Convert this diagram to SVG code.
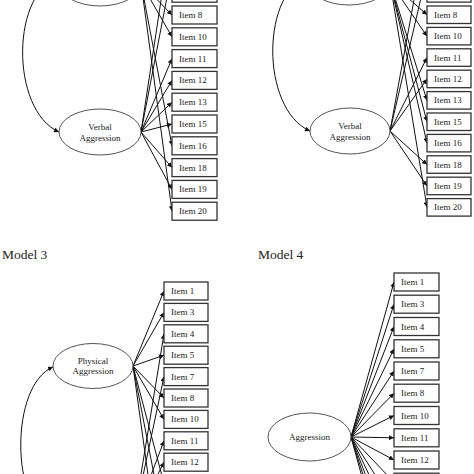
<svg xmlns="http://www.w3.org/2000/svg" width="474" height="474" viewBox="0 0 474 474">
<style>
.box{fill:#fff;stroke:#333;stroke-width:1.3}
.ell{fill:#fff;stroke:#555;stroke-width:1}
.it{font-family:"Liberation Serif",serif;font-size:9px;fill:#222}
.el{font-family:"Liberation Serif",serif;font-size:9px;fill:#222;text-anchor:middle}
.ttl{font-family:"Liberation Serif",serif;font-size:13.5px;fill:#222}
.ln{stroke:#111;stroke-width:1;fill:none;marker-end:url(#ah)}
.cv{stroke:#111;stroke-width:1;fill:none;marker-end:url(#ah);marker-start:url(#ah)}
</style>
<defs>
<marker id="ah" viewBox="0 0 10 10" refX="10" refY="5" markerWidth="5.5" markerHeight="5" markerUnits="userSpaceOnUse" orient="auto-start-reverse">
<path d="M0,0 L10,5 L0,10 z" fill="#111"/>
</marker>
</defs>
<rect width="474" height="474" fill="#fff"/>

<g id="connectors">
<!-- Model 1 -->
<path class="cv" d="M62,-25 C10,-10 10,110 59,132"/>
<line class="ln" x1="141" y1="-17" x2="172" y2="-6.8"/>
<line class="ln" x1="141" y1="-17" x2="172" y2="15"/>
<line class="ln" x1="141" y1="-17" x2="172" y2="36.8"/>
<line class="ln" x1="141" y1="-17" x2="172" y2="145.8"/>
<line class="ln" x1="141" y1="-17" x2="172" y2="211.2"/>
<line class="ln" x1="141" y1="132" x2="172" y2="-28.6"/>
<line class="ln" x1="141" y1="132" x2="172" y2="-72"/>
<line class="ln" x1="141" y1="132" x2="172" y2="58.6"/>
<line class="ln" x1="141" y1="132" x2="172" y2="80.4"/>
<line class="ln" x1="141" y1="132" x2="172" y2="102.2"/>
<line class="ln" x1="141" y1="132" x2="172" y2="124"/>
<line class="ln" x1="141" y1="132" x2="172" y2="167.6"/>
<line class="ln" x1="141" y1="132" x2="172" y2="189.4"/>
<!-- Model 2 -->
<path class="cv" d="M312,-26 C260,-11 260,109 310,131"/>
<line class="ln" x1="390" y1="-18" x2="427" y2="-6.6"/>
<line class="ln" x1="390" y1="-18" x2="427" y2="14.8"/>
<line class="ln" x1="390" y1="-18" x2="427" y2="36.2"/>
<line class="ln" x1="390" y1="-18" x2="427" y2="100.4"/>
<line class="ln" x1="390" y1="-18" x2="427" y2="121.8"/>
<line class="ln" x1="390" y1="-18" x2="427" y2="143.2"/>
<line class="ln" x1="390" y1="-18" x2="427" y2="207.4"/>
<line class="ln" x1="390" y1="131" x2="427" y2="-28"/>
<line class="ln" x1="390" y1="131" x2="427" y2="-71"/>
<line class="ln" x1="390" y1="131" x2="427" y2="57.6"/>
<line class="ln" x1="390" y1="131" x2="427" y2="79"/>
<line class="ln" x1="390" y1="131" x2="427" y2="164.6"/>
<line class="ln" x1="390" y1="131" x2="427" y2="186"/>
<!-- Model 3 -->
<path class="cv" d="M53,367 C10,385 10,505 53,523"/>
<line class="ln" x1="133" y1="366" x2="164" y2="291"/>
<line class="ln" x1="133" y1="366" x2="164" y2="312.4"/>
<line class="ln" x1="133" y1="366" x2="164" y2="355.2"/>
<line class="ln" x1="133" y1="366" x2="164" y2="398"/>
<line class="ln" x1="133" y1="366" x2="164" y2="419.4"/>
<line class="ln" x1="133" y1="366" x2="164" y2="483.6"/>
<line class="ln" x1="133" y1="366" x2="164" y2="526.4"/>
<line class="ln" x1="133" y1="366" x2="164" y2="590.6"/>
<line class="ln" x1="133" y1="523" x2="164" y2="333.8"/>
<line class="ln" x1="133" y1="523" x2="164" y2="376.6"/>
<line class="ln" x1="133" y1="523" x2="164" y2="440.8"/>
<line class="ln" x1="133" y1="523" x2="164" y2="462.2"/>
<line class="ln" x1="133" y1="523" x2="164" y2="505"/>
<!-- Model 4 -->
<line class="ln" x1="351" y1="437" x2="394" y2="282"/>
<line class="ln" x1="351" y1="437" x2="394" y2="304.2"/>
<line class="ln" x1="351" y1="437" x2="394" y2="326.5"/>
<line class="ln" x1="351" y1="437" x2="394" y2="348.8"/>
<line class="ln" x1="351" y1="437" x2="394" y2="371"/>
<line class="ln" x1="351" y1="437" x2="394" y2="393.2"/>
<line class="ln" x1="351" y1="437" x2="394" y2="415.5"/>
<line class="ln" x1="351" y1="437" x2="394" y2="437.8"/>
<line class="ln" x1="351" y1="437" x2="394" y2="460"/>
<line class="ln" x1="351" y1="437" x2="394" y2="482.2"/>
<line class="ln" x1="351" y1="437" x2="394" y2="504.5"/>
<line class="ln" x1="351" y1="437" x2="394" y2="526.8"/>
<line class="ln" x1="351" y1="437" x2="394" y2="549"/>
<line class="ln" x1="351" y1="437" x2="394" y2="571.2"/>
<line class="ln" x1="351" y1="437" x2="394" y2="593.5"/>
</g>

<!-- Model 1 nodes -->
<g id="m1-f1"><ellipse class="ell" cx="100" cy="-17" rx="41" ry="23"/></g>
<g id="m1-verbal"><ellipse class="ell" cx="100" cy="132" rx="41" ry="23"/><text class="el" x="100" y="130">Verbal</text><text class="el" x="100" y="140.5">Aggression</text></g>
<g id="m1-item7"><rect class="box" x="172" y="-15.8" width="45" height="18"/></g>
<g id="m1-item8"><rect class="box" x="172" y="6" width="45" height="18"/><text class="it" x="179" y="18">Item 8</text></g>
<g id="m1-item10"><rect class="box" x="172" y="27.8" width="45" height="18"/><text class="it" x="179" y="39.8">Item 10</text></g>
<g id="m1-item11"><rect class="box" x="172" y="49.6" width="45" height="18"/><text class="it" x="179" y="61.6">Item 11</text></g>
<g id="m1-item12"><rect class="box" x="172" y="71.4" width="45" height="18"/><text class="it" x="179" y="83.4">Item 12</text></g>
<g id="m1-item13"><rect class="box" x="172" y="93.2" width="45" height="18"/><text class="it" x="179" y="105.2">Item 13</text></g>
<g id="m1-item15"><rect class="box" x="172" y="115" width="45" height="18"/><text class="it" x="179" y="127">Item 15</text></g>
<g id="m1-item16"><rect class="box" x="172" y="136.8" width="45" height="18"/><text class="it" x="179" y="148.8">Item 16</text></g>
<g id="m1-item18"><rect class="box" x="172" y="158.6" width="45" height="18"/><text class="it" x="179" y="170.6">Item 18</text></g>
<g id="m1-item19"><rect class="box" x="172" y="180.4" width="45" height="18"/><text class="it" x="179" y="192.4">Item 19</text></g>
<g id="m1-item20"><rect class="box" x="172" y="202.2" width="45" height="18"/><text class="it" x="179" y="214.2">Item 20</text></g>

<!-- Model 2 nodes -->
<g id="m2-f1"><ellipse class="ell" cx="349" cy="-18" rx="41" ry="23"/></g>
<g id="m2-verbal"><ellipse class="ell" cx="350" cy="131" rx="40" ry="23"/><text class="el" x="350" y="129">Verbal</text><text class="el" x="350" y="139.5">Aggression</text></g>
<g id="m2-item7"><rect class="box" x="427" y="-15.4" width="44" height="17.5"/></g>
<g id="m2-item8"><rect class="box" x="427" y="6" width="44" height="17.5"/><text class="it" x="434" y="17.8">Item 8</text></g>
<g id="m2-item10"><rect class="box" x="427" y="27.4" width="44" height="17.5"/><text class="it" x="434" y="39.2">Item 10</text></g>
<g id="m2-item11"><rect class="box" x="427" y="48.8" width="44" height="17.5"/><text class="it" x="434" y="60.6">Item 11</text></g>
<g id="m2-item12"><rect class="box" x="427" y="70.2" width="44" height="17.5"/><text class="it" x="434" y="82">Item 12</text></g>
<g id="m2-item13"><rect class="box" x="427" y="91.6" width="44" height="17.5"/><text class="it" x="434" y="103.4">Item 13</text></g>
<g id="m2-item15"><rect class="box" x="427" y="113" width="44" height="17.5"/><text class="it" x="434" y="124.8">Item 15</text></g>
<g id="m2-item16"><rect class="box" x="427" y="134.4" width="44" height="17.5"/><text class="it" x="434" y="146.2">Item 16</text></g>
<g id="m2-item18"><rect class="box" x="427" y="155.8" width="44" height="17.5"/><text class="it" x="434" y="167.6">Item 18</text></g>
<g id="m2-item19"><rect class="box" x="427" y="177.2" width="44" height="17.5"/><text class="it" x="434" y="189">Item 19</text></g>
<g id="m2-item20"><rect class="box" x="427" y="198.6" width="44" height="17.5"/><text class="it" x="434" y="210.4">Item 20</text></g>

<!-- Model 3 -->
<text class="ttl" x="2" y="259">Model 3</text>
<g id="m3-physical"><ellipse class="ell" cx="93" cy="366" rx="40" ry="22.5"/><text class="el" x="93" y="363.5">Physical</text><text class="el" x="93" y="374">Aggression</text></g>
<g id="m3-item1"><rect class="box" x="164" y="282" width="44" height="18"/><text class="it" x="171" y="294">Item 1</text></g>
<g id="m3-item3"><rect class="box" x="164" y="303.4" width="44" height="18"/><text class="it" x="171" y="315.4">Item 3</text></g>
<g id="m3-item4"><rect class="box" x="164" y="324.8" width="44" height="18"/><text class="it" x="171" y="336.8">Item 4</text></g>
<g id="m3-item5"><rect class="box" x="164" y="346.2" width="44" height="18"/><text class="it" x="171" y="358.2">Item 5</text></g>
<g id="m3-item7"><rect class="box" x="164" y="367.6" width="44" height="18"/><text class="it" x="171" y="379.6">Item 7</text></g>
<g id="m3-item8"><rect class="box" x="164" y="389" width="44" height="18"/><text class="it" x="171" y="401">Item 8</text></g>
<g id="m3-item10"><rect class="box" x="164" y="410.4" width="44" height="18"/><text class="it" x="171" y="422.4">Item 10</text></g>
<g id="m3-item11"><rect class="box" x="164" y="431.8" width="44" height="18"/><text class="it" x="171" y="443.8">Item 11</text></g>
<g id="m3-item12"><rect class="box" x="164" y="453.2" width="44" height="18"/><text class="it" x="171" y="465.2">Item 12</text></g>

<!-- Model 4 -->
<text class="ttl" x="258" y="259">Model 4</text>
<g id="m4-aggression"><ellipse class="ell" cx="309.5" cy="437" rx="41.5" ry="24"/><text class="el" x="309.5" y="440">Aggression</text></g>
<g id="m4-item1"><rect class="box" x="394" y="273" width="45" height="18"/><text class="it" x="401" y="285">Item 1</text></g>
<g id="m4-item3"><rect class="box" x="394" y="295.2" width="45" height="18"/><text class="it" x="401" y="307.2">Item 3</text></g>
<g id="m4-item4"><rect class="box" x="394" y="317.5" width="45" height="18"/><text class="it" x="401" y="329.5">Item 4</text></g>
<g id="m4-item5"><rect class="box" x="394" y="339.8" width="45" height="18"/><text class="it" x="401" y="351.8">Item 5</text></g>
<g id="m4-item7"><rect class="box" x="394" y="362" width="45" height="18"/><text class="it" x="401" y="374">Item 7</text></g>
<g id="m4-item8"><rect class="box" x="394" y="384.2" width="45" height="18"/><text class="it" x="401" y="396.2">Item 8</text></g>
<g id="m4-item10"><rect class="box" x="394" y="406.5" width="45" height="18"/><text class="it" x="401" y="418.5">Item 10</text></g>
<g id="m4-item11"><rect class="box" x="394" y="428.8" width="45" height="18"/><text class="it" x="401" y="440.8">Item 11</text></g>
<g id="m4-item12"><rect class="box" x="394" y="451" width="45" height="18"/><text class="it" x="401" y="463">Item 12</text></g>
<g id="m4-item13"><rect class="box" x="394" y="473.2" width="45" height="18"/></g>
</svg>
